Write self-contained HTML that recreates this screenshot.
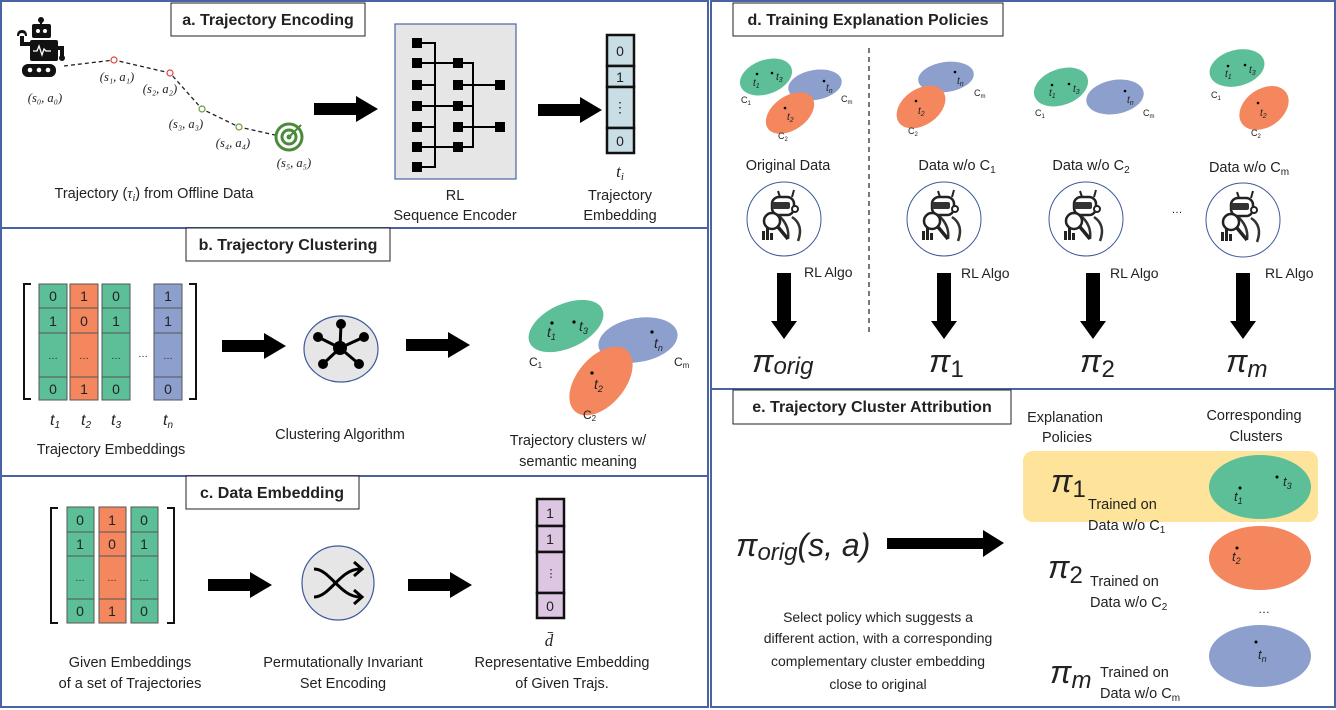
<!DOCTYPE html>
<html><head><meta charset="utf-8"><style>
html,body{margin:0;padding:0;background:#fff;}
svg{display:block;}
text{font-family:"Liberation Sans",sans-serif;fill:#222;}
.m{font-family:"Liberation Serif",serif;font-style:italic;}
.h{font-weight:bold;font-size:16px;}
.l{font-size:14.5px;}
.cell{font-size:14px;fill:#fff;}
</style></head><body>
<svg width="1336" height="710" viewBox="0 0 1336 710" xmlns="http://www.w3.org/2000/svg">
<defs>
<g id="arrR"><path d="M0,-6 H42 V-13 L64,0 L42,13 V6 H0 Z" fill="#000"/></g>
<g id="arrD"><path d="M-7,0 H7 V48 H13 L0,66 L-13,48 H-7 Z" fill="#000"/></g>
<g id="bot">
 <ellipse cx="0" cy="0" rx="37" ry="37" fill="#fff" stroke="#3c5a9a" stroke-width="1"/>
 <rect x="-12" y="-22" width="22" height="18" rx="7" fill="#fff" stroke="#222" stroke-width="2.5"/>
 <rect x="-12" y="-17" width="18" height="7" rx="2" fill="#333"/>
 <line x1="-4" y1="-22" x2="-6" y2="-28" stroke="#222" stroke-width="2"/>
 <line x1="8" y1="-22" x2="10" y2="-29" stroke="#222" stroke-width="2"/>
 <circle cx="11" cy="-10" r="3" fill="#fff" stroke="#222" stroke-width="2"/>
 <path d="M-6,-4 Q6,6 4,20 M8,-2 Q20,6 14,22" fill="none" stroke="#333" stroke-width="2.5"/>
 <circle cx="-12" cy="2" r="8" fill="#fff" stroke="#222" stroke-width="2.5"/>
 <line x1="-6" y1="8" x2="4" y2="20" stroke="#222" stroke-width="3.5"/>
 <rect x="-22" y="12" width="3" height="9" fill="#222"/><rect x="-18" y="9" width="3" height="12" fill="#222"/><rect x="-14" y="14" width="3" height="7" fill="#222"/>
</g>
</defs>

<!-- panel borders -->
<g fill="none" stroke="#4a64a3" stroke-width="2">
<rect x="1" y="1" width="707" height="227"/>
<rect x="1" y="228" width="707" height="248"/>
<rect x="1" y="476" width="707" height="231"/>
<rect x="711" y="1" width="624" height="388"/>
<rect x="711" y="389" width="624" height="318"/>
</g>

<!-- ===== a ===== -->
<rect x="171" y="3" width="194" height="33" fill="#fff" stroke="#222" stroke-width="1"/>
<text x="268" y="25" text-anchor="middle" class="h">a. Trajectory Encoding</text>
<!-- robot -->
<g fill="#111">
 <circle cx="41" cy="20" r="3"/><rect x="40" y="20" width="2" height="5"/>
 <rect x="32" y="24" width="19" height="14" rx="2"/>
 <circle cx="38" cy="31" r="2" fill="#fff"/><circle cx="45" cy="31" r="2" fill="#fff"/>
 <rect x="30" y="40" width="28" height="21" rx="2"/>
 <path d="M33,51 l4,0 l2,-5 l3,9 l2,-6 l2,2 l5,0" stroke="#fff" stroke-width="1.3" fill="none"/>
 <path d="M30,44 L22,44 L22,36" stroke="#111" stroke-width="4" fill="none"/>
 <path d="M17,36 q0,-6 5,-6 q5,0 5,6 l-2,0 q0,-3 -3,-3 q-3,0 -3,3 z"/>
 <path d="M58,48 L62,48 L62,56" stroke="#111" stroke-width="4" fill="none"/>
 <circle cx="62" cy="58" r="3"/>
 <rect x="22" y="64" width="34" height="13" rx="6"/>
 <circle cx="30" cy="70" r="2.3" fill="#fff"/><circle cx="39" cy="70" r="2.3" fill="#fff"/><circle cx="48" cy="70" r="2.3" fill="#fff"/>
</g>
<polyline points="64,66 114,60 170,73 202,109 239,127 275,135" fill="none" stroke="#222" stroke-width="1.3" stroke-dasharray="4,3"/>
<circle cx="114" cy="60" r="3" fill="#fff" stroke="#e04040" stroke-width="1.2"/>
<circle cx="170" cy="73" r="3" fill="#fff" stroke="#e04040" stroke-width="1.2"/>
<circle cx="202" cy="109" r="3" fill="#fff" stroke="#6a9a3a" stroke-width="1.2"/>
<circle cx="239" cy="127" r="3" fill="#fff" stroke="#6a9a3a" stroke-width="1.2"/>
<g fill="none" stroke="#4a8a3a" stroke-width="3"><circle cx="289" cy="137" r="13"/><circle cx="289" cy="137" r="7"/></g>
<circle cx="289" cy="137" r="2.5" fill="#4a8a3a"/>
<line x1="289" y1="137" x2="301" y2="125" stroke="#4a8a3a" stroke-width="2"/>
<g class="m" font-size="12.5" text-anchor="middle">
<text x="45" y="102" class="m">(s₀, a₀)</text>
<text x="117" y="81" class="m">(s₁, a₁)</text>
<text x="160" y="93" class="m">(s₂, a₂)</text>
<text x="186" y="128" class="m">(s₃, a₃)</text>
<text x="233" y="147" class="m">(s₄, a₄)</text>
<text x="294" y="167" class="m">(s₅, a₅)</text>
</g>
<text x="154" y="198" text-anchor="middle" class="l">Trajectory (<tspan class="m">τ<tspan font-size="10" dy="3">i</tspan></tspan><tspan dy="-3">) from Offline Data</tspan></text>
<use href="#arrR" x="314" y="109"/>
<!-- encoder -->
<rect x="395" y="24" width="121" height="155" fill="#e6e6e6" stroke="#4a64a3" stroke-width="1.2"/>
<g fill="#000">
 <rect x="412" y="38" width="10" height="10"/><rect x="412" y="58" width="10" height="10"/><rect x="412" y="80" width="10" height="10"/>
 <rect x="412" y="101" width="10" height="10"/><rect x="412" y="122" width="10" height="10"/><rect x="412" y="142" width="10" height="10"/>
 <rect x="412" y="162" width="10" height="10"/>
 <rect x="453" y="58" width="10" height="10"/><rect x="453" y="80" width="10" height="10"/><rect x="453" y="101" width="10" height="10"/>
 <rect x="453" y="122" width="10" height="10"/><rect x="453" y="142" width="10" height="10"/>
 <rect x="495" y="80" width="10" height="10"/><rect x="495" y="122" width="10" height="10"/>
</g>
<g stroke="#000" stroke-width="2" fill="none">
 <path d="M422,43 H435 V167 H422 M422,63 H453 M422,85 H435 M422,106 H453 M422,127 H435 M422,147 H453"/>
 <path d="M463,63 H473 V147 H463 M463,85 H495 M463,106 H473 M463,127 H495"/>
</g>
<text x="455" y="200" text-anchor="middle" class="l">RL</text>
<text x="455" y="220" text-anchor="middle" class="l">Sequence Encoder</text>
<use href="#arrR" x="538" y="110"/>
<g stroke="#111" stroke-width="2.5" fill="#c9dde4">
<rect x="607" y="35" width="27" height="31"/><rect x="607" y="66" width="27" height="21"/>
<rect x="607" y="87" width="27" height="41"/><rect x="607" y="128" width="27" height="25"/>
</g>
<g font-size="14" text-anchor="middle"><text x="620" y="56">0</text><text x="620" y="82">1</text><text x="620" y="112">⋮</text><text x="620" y="146">0</text></g>
<text x="620" y="177" text-anchor="middle" class="m" font-size="17">t<tspan font-size="11" dy="3">i</tspan></text>
<text x="620" y="200" text-anchor="middle" class="l">Trajectory</text>
<text x="620" y="220" text-anchor="middle" class="l">Embedding</text>

<!-- ===== b ===== -->
<rect x="186" y="228" width="204" height="33" fill="#fff" stroke="#222" stroke-width="1"/>
<text x="288" y="250" text-anchor="middle" class="h">b. Trajectory Clustering</text>
<g fill="none" stroke="#111" stroke-width="2"><path d="M31,284 H24 V399 H31"/><path d="M189,284 H196 V399 H189"/></g>
<g stroke="#555" stroke-width="1">
 <g fill="#5cbf98"><rect x="39" y="284" width="28" height="24"/><rect x="39" y="308" width="28" height="25"/><rect x="39" y="333" width="28" height="44"/><rect x="39" y="377" width="28" height="23"/>
 <rect x="102" y="284" width="28" height="24"/><rect x="102" y="308" width="28" height="25"/><rect x="102" y="333" width="28" height="44"/><rect x="102" y="377" width="28" height="23"/></g>
 <g fill="#f4875e"><rect x="70" y="284" width="28" height="24"/><rect x="70" y="308" width="28" height="25"/><rect x="70" y="333" width="28" height="44"/><rect x="70" y="377" width="28" height="23"/></g>
 <g fill="#8c9fcd"><rect x="154" y="284" width="28" height="24"/><rect x="154" y="308" width="28" height="25"/><rect x="154" y="333" width="28" height="44"/><rect x="154" y="377" width="28" height="23"/></g>
</g>
<g class="cell" text-anchor="middle">
 <text x="53" y="301">0</text><text x="53" y="326">1</text><text x="53" y="359" font-size="10">…</text><text x="53" y="394">0</text>
 <text x="84" y="301">1</text><text x="84" y="326">0</text><text x="84" y="359" font-size="10">…</text><text x="84" y="394">1</text>
 <text x="116" y="301">0</text><text x="116" y="326">1</text><text x="116" y="359" font-size="10">…</text><text x="116" y="394">0</text>
 <text x="168" y="301">1</text><text x="168" y="326">1</text><text x="168" y="359" font-size="10">…</text><text x="168" y="394">0</text>
</g>
<text x="143" y="357" font-size="10" text-anchor="middle">…</text>
<g class="m" font-size="16" text-anchor="middle">
<text x="55" y="425">t<tspan font-size="10" dy="3">1</tspan></text><text x="86" y="425">t<tspan font-size="10" dy="3">2</tspan></text>
<text x="116" y="425">t<tspan font-size="10" dy="3">3</tspan></text><text x="168" y="425">t<tspan font-size="10" dy="3">n</tspan></text>
</g>
<text x="111" y="454" text-anchor="middle" class="l">Trajectory Embeddings</text>
<use href="#arrR" x="222" y="346"/>
<ellipse cx="341" cy="349" rx="37" ry="33" fill="#e6e6e6" stroke="#3c5a9a" stroke-width="1.2"/>
<g stroke="#000" stroke-width="3"><line x1="340" y1="348" x2="341" y2="324"/><line x1="340" y1="348" x2="318" y2="337"/><line x1="340" y1="348" x2="364" y2="337"/><line x1="340" y1="348" x2="323" y2="364"/><line x1="340" y1="348" x2="359" y2="364"/></g>
<g fill="#000"><circle cx="340" cy="348" r="7"/><circle cx="341" cy="324" r="5"/><circle cx="318" cy="337" r="5"/><circle cx="364" cy="337" r="5"/><circle cx="323" cy="364" r="5"/><circle cx="359" cy="364" r="5"/></g>
<text x="340" y="439" text-anchor="middle" class="l">Clustering Algorithm</text>
<use href="#arrR" x="406" y="345"/>
<ellipse cx="566" cy="326" rx="40" ry="22" transform="rotate(-25 566 326)" fill="#5cbf98"/>
<ellipse cx="638" cy="340" rx="40" ry="22" transform="rotate(-10 638 340)" fill="#8c9fcd"/>
<ellipse cx="601" cy="381" rx="40" ry="24" transform="rotate(-50 601 381)" fill="#f4875e"/>
<g fill="#000"><circle cx="552" cy="323" r="1.6"/><circle cx="574" cy="322" r="1.6"/><circle cx="652" cy="332" r="1.6"/><circle cx="592" cy="373" r="1.6"/></g>
<g class="m" font-size="14"><text x="547" y="337">t<tspan font-size="9" dy="3">1</tspan></text><text x="579" y="331">t<tspan font-size="9" dy="3">3</tspan></text><text x="654" y="348">t<tspan font-size="9" dy="3">n</tspan></text><text x="594" y="389">t<tspan font-size="9" dy="3">2</tspan></text></g>
<g font-size="12"><text x="529" y="366">C<tspan font-size="8" dy="2">1</tspan></text><text x="674" y="366">C<tspan font-size="8" dy="2">m</tspan></text><text x="583" y="419">C<tspan font-size="8" dy="2">2</tspan></text></g>
<text x="578" y="445" text-anchor="middle" class="l">Trajectory clusters w/</text>
<text x="578" y="466" text-anchor="middle" class="l">semantic meaning</text>

<!-- ===== c ===== -->
<rect x="186" y="476" width="173" height="33" fill="#fff" stroke="#222" stroke-width="1"/>
<text x="272" y="498" text-anchor="middle" class="h">c. Data Embedding</text>
<g fill="none" stroke="#111" stroke-width="2"><path d="M58,508 H51 V623 H58"/><path d="M167,508 H174 V623 H167"/></g>
<g stroke="#555" stroke-width="1">
 <g fill="#5cbf98"><rect x="67" y="507" width="27" height="25"/><rect x="67" y="532" width="27" height="24"/><rect x="67" y="556" width="27" height="43"/><rect x="67" y="599" width="27" height="24"/>
 <rect x="131" y="507" width="27" height="25"/><rect x="131" y="532" width="27" height="24"/><rect x="131" y="556" width="27" height="43"/><rect x="131" y="599" width="27" height="24"/></g>
 <g fill="#f4875e"><rect x="99" y="507" width="27" height="25"/><rect x="99" y="532" width="27" height="24"/><rect x="99" y="556" width="27" height="43"/><rect x="99" y="599" width="27" height="24"/></g>
</g>
<g class="cell" text-anchor="middle">
 <text x="80" y="525">0</text><text x="80" y="549">1</text><text x="80" y="581" font-size="10">…</text><text x="80" y="616">0</text>
 <text x="112" y="525">1</text><text x="112" y="549">0</text><text x="112" y="581" font-size="10">…</text><text x="112" y="616">1</text>
 <text x="144" y="525">0</text><text x="144" y="549">1</text><text x="144" y="581" font-size="10">…</text><text x="144" y="616">0</text>
</g>
<use href="#arrR" x="208" y="585"/>
<ellipse cx="338" cy="583" rx="36" ry="37" fill="#e6e6e6" stroke="#3c5a9a" stroke-width="1.2"/>
<g fill="none" stroke="#000" stroke-width="3">
 <path d="M314,569 C330,569 340,597 360,597"/><path d="M314,597 C330,597 340,569 360,569"/>
 <path d="M354,562 L362,569 L354,576"/><path d="M354,590 L362,597 L354,604"/>
</g>
<use href="#arrR" x="408" y="585"/>
<g stroke="#111" stroke-width="2.5" fill="#dcc6e2">
<rect x="537" y="499" width="27" height="27"/><rect x="537" y="526" width="27" height="26"/>
<rect x="537" y="552" width="27" height="41"/><rect x="537" y="593" width="27" height="25"/>
</g>
<g font-size="14" text-anchor="middle"><text x="550" y="518">1</text><text x="550" y="544">1</text><text x="551" y="577" font-size="11">⋮</text><text x="550" y="611">0</text></g>
<text x="549" y="646" text-anchor="middle" class="m" font-size="17">d̄</text>
<text x="130" y="667" text-anchor="middle" class="l">Given Embeddings</text>
<text x="130" y="688" text-anchor="middle" class="l">of a set of Trajectories</text>
<text x="343" y="667" text-anchor="middle" class="l">Permutationally Invariant</text>
<text x="343" y="688" text-anchor="middle" class="l">Set Encoding</text>
<text x="562" y="667" text-anchor="middle" class="l">Representative Embedding</text>
<text x="562" y="688" text-anchor="middle" class="l">of Given Trajs.</text>

<!-- ===== d ===== -->
<rect x="733" y="3" width="270" height="33" fill="#fff" stroke="#222" stroke-width="1"/>
<text x="868" y="25" text-anchor="middle" class="h">d. Training Explanation Policies</text>
<line x1="869" y1="48" x2="869" y2="332" stroke="#222" stroke-width="1.2" stroke-dasharray="5,4"/>
<!-- group1 -->
<ellipse cx="766" cy="77" rx="27" ry="17" transform="rotate(-20 766 77)" fill="#5cbf98"/>
<ellipse cx="815" cy="85" rx="27" ry="15" transform="rotate(-10 815 85)" fill="#8c9fcd"/>
<ellipse cx="790" cy="113" rx="27" ry="17" transform="rotate(-35 790 113)" fill="#f4875e"/>
<!-- group2 -->
<ellipse cx="946" cy="77" rx="28" ry="15" transform="rotate(-8 946 77)" fill="#8c9fcd"/>
<ellipse cx="921" cy="107" rx="27" ry="18" transform="rotate(-35 921 107)" fill="#f4875e"/>
<!-- group3 -->
<ellipse cx="1061" cy="87" rx="28" ry="18" transform="rotate(-20 1061 87)" fill="#5cbf98"/>
<ellipse cx="1115" cy="97" rx="29" ry="17" transform="rotate(-10 1115 97)" fill="#8c9fcd"/>
<!-- group4 -->
<ellipse cx="1237" cy="68" rx="28" ry="18" transform="rotate(-15 1237 68)" fill="#5cbf98"/>
<ellipse cx="1264" cy="108" rx="27" ry="19" transform="rotate(-35 1264 108)" fill="#f4875e"/>
<g fill="#000">
 <circle cx="757" cy="74" r="1.3"/><circle cx="772" cy="73" r="1.3"/><circle cx="824" cy="81" r="1.3"/><circle cx="785" cy="108" r="1.3"/>
 <circle cx="955" cy="72" r="1.3"/><circle cx="916" cy="101" r="1.3"/>
 <circle cx="1052" cy="85" r="1.3"/><circle cx="1069" cy="84" r="1.3"/><circle cx="1125" cy="91" r="1.3"/>
 <circle cx="1228" cy="66" r="1.3"/><circle cx="1245" cy="65" r="1.3"/><circle cx="1258" cy="103" r="1.3"/>
</g>
<g class="m" font-size="10">
 <text x="753" y="86">t<tspan font-size="7" dy="2">1</tspan></text><text x="776" y="80">t<tspan font-size="7" dy="2">3</tspan></text><text x="826" y="91">t<tspan font-size="7" dy="2">n</tspan></text><text x="787" y="120">t<tspan font-size="7" dy="2">2</tspan></text>
 <text x="957" y="84">t<tspan font-size="7" dy="2">n</tspan></text><text x="918" y="114">t<tspan font-size="7" dy="2">2</tspan></text>
 <text x="1049" y="96">t<tspan font-size="7" dy="2">1</tspan></text><text x="1073" y="92">t<tspan font-size="7" dy="2">3</tspan></text><text x="1127" y="103">t<tspan font-size="7" dy="2">n</tspan></text>
 <text x="1225" y="77">t<tspan font-size="7" dy="2">1</tspan></text><text x="1249" y="73">t<tspan font-size="7" dy="2">3</tspan></text><text x="1260" y="116">t<tspan font-size="7" dy="2">2</tspan></text>
</g>
<g font-size="9">
 <text x="741" y="103">C<tspan font-size="6" dy="2">1</tspan></text><text x="841" y="102">C<tspan font-size="6" dy="2">m</tspan></text><text x="778" y="139">C<tspan font-size="6" dy="2">2</tspan></text>
 <text x="974" y="96">C<tspan font-size="6" dy="2">m</tspan></text><text x="908" y="134">C<tspan font-size="6" dy="2">2</tspan></text>
 <text x="1035" y="116">C<tspan font-size="6" dy="2">1</tspan></text><text x="1143" y="116">C<tspan font-size="6" dy="2">m</tspan></text>
 <text x="1211" y="98">C<tspan font-size="6" dy="2">1</tspan></text><text x="1251" y="136">C<tspan font-size="6" dy="2">2</tspan></text>
</g>
<g class="l" text-anchor="middle">
 <text x="788" y="170">Original Data</text>
 <text x="957" y="170">Data w/o C<tspan font-size="10" dy="3">1</tspan></text>
 <text x="1091" y="170">Data w/o C<tspan font-size="10" dy="3">2</tspan></text>
 <text x="1249" y="172">Data w/o C<tspan font-size="10" dy="3">m</tspan></text>
</g>
<use href="#bot" x="784" y="219"/><use href="#bot" x="944" y="219"/><use href="#bot" x="1086" y="219"/><use href="#bot" x="1243" y="220"/>
<text x="1177" y="213" text-anchor="middle" font-size="11">…</text>
<g font-size="14"><text x="804" y="277">RL Algo</text><text x="961" y="278">RL Algo</text><text x="1110" y="278">RL Algo</text><text x="1265" y="278">RL Algo</text></g>
<use href="#arrD" x="784" y="273"/><use href="#arrD" x="944" y="273"/><use href="#arrD" x="1093" y="273"/><use href="#arrD" x="1243" y="273"/>
<g class="m" font-size="32">
 <text x="752" y="372">π<tspan font-size="24" dy="2">orig</tspan></text>
 <text x="929" y="372">π<tspan font-size="24" dy="5" font-style="normal">1</tspan></text>
 <text x="1080" y="372">π<tspan font-size="24" dy="5" font-style="normal">2</tspan></text>
 <text x="1226" y="372">π<tspan font-size="24" dy="5">m</tspan></text>
</g>

<!-- ===== e ===== -->
<rect x="733" y="390" width="278" height="34" fill="#fff" stroke="#222" stroke-width="1"/>
<text x="872" y="412" text-anchor="middle" class="h">e. Trajectory Cluster Attribution</text>
<g class="l" text-anchor="middle">
 <text x="1065" y="422">Explanation</text><text x="1067" y="442">Policies</text>
 <text x="1254" y="420">Corresponding</text><text x="1256" y="441">Clusters</text>
</g>
<rect x="1023" y="451" width="295" height="71" rx="10" fill="#fde49a"/>
<ellipse cx="1260" cy="487" rx="51" ry="32" fill="#5cbf98"/>
<ellipse cx="1260" cy="558" rx="51" ry="32" fill="#f4875e"/>
<ellipse cx="1260" cy="656" rx="51" ry="31" fill="#8c9fcd"/>
<g fill="#000"><circle cx="1240" cy="488" r="1.5"/><circle cx="1277" cy="477" r="1.5"/><circle cx="1237" cy="548" r="1.5"/><circle cx="1256" cy="642" r="1.5"/></g>
<g class="m" font-size="13">
 <text x="1234" y="501">t<tspan font-size="9" dy="3">1</tspan></text><text x="1283" y="486">t<tspan font-size="9" dy="3">3</tspan></text>
 <text x="1232" y="561">t<tspan font-size="9" dy="3">2</tspan></text><text x="1258" y="659">t<tspan font-size="9" dy="3">n</tspan></text>
</g>
<text x="1264" y="613" text-anchor="middle" font-size="12">…</text>
<g class="m" font-size="32">
 <text x="1051" y="492">π<tspan font-size="24" dy="5" font-style="normal">1</tspan></text>
 <text x="1048" y="578">π<tspan font-size="24" dy="5" font-style="normal">2</tspan></text>
 <text x="1050" y="683">π<tspan font-size="24" dy="5">m</tspan></text>
 <text x="736" y="556">π<tspan font-size="24" dy="4">orig</tspan><tspan dy="-4">(s, a)</tspan></text>
</g>
<g class="l">
 <text x="1088" y="509">Trained on</text><text x="1088" y="530">Data w/o C<tspan font-size="10" dy="3">1</tspan></text>
 <text x="1090" y="586">Trained on</text><text x="1090" y="607">Data w/o C<tspan font-size="10" dy="3">2</tspan></text>
 <text x="1100" y="677">Trained on</text><text x="1100" y="698">Data w/o C<tspan font-size="10" dy="3">m</tspan></text>
</g>
<path d="M887,538 H983 V530 L1004,543 L983,557 V549 H887 Z" fill="#000"/>
<g font-size="14" text-anchor="middle">
 <text x="878" y="622">Select policy which suggests a</text>
 <text x="878" y="643">different action, with a corresponding</text>
 <text x="878" y="666">complementary cluster embedding</text>
 <text x="878" y="689">close to original</text>
</g>
</svg>
</body></html>
